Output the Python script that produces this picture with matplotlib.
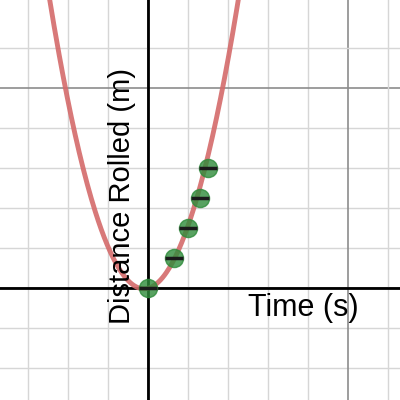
import numpy as np
import matplotlib
matplotlib.use('Agg')
import matplotlib.pyplot as plt

plt.rcParams['font.family'] = ['Liberation Sans', 'DejaVu Sans']

# measured points (time s, distance m)
times = [0.0, 0.65, 1.0, 1.3, 1.5]
dists = [0.0, 0.75, 1.5, 2.25, 3.0]

# fitted parabola y = a (x - h)^2 + k
fit_a, fit_h, fit_k = 1.3, -0.1, -0.02

fig = plt.figure(figsize=(4, 4), dpi=100)
ax = fig.add_axes([0, 0, 1, 1])
ax.set_xlim(-3.7, 6.3)
ax.set_ylim(-2.8, 7.2)

# grid: minor every 1, major every 5
for v in np.arange(-3, 7):
    lw, c = (1.2, '#8c8c8c') if v % 5 == 0 else (1.0, '#d6d6d6')
    ax.axvline(v, color=c, lw=lw, zorder=0)
    ax.axhline(v, color=c, lw=lw, zorder=0)
ax.axvline(0, color='black', lw=2, zorder=1)
ax.axhline(0, color='black', lw=2, zorder=1)

xs = np.linspace(-3.7, 6.3, 400)
ax.plot(xs, fit_a * (xs - fit_h) ** 2 + fit_k, color='#d46a6a', lw=3.5, alpha=0.9, zorder=2)

ax.scatter(times, dists, s=170, color='#2e8b3a', alpha=0.8, zorder=3)
ax.errorbar(times, dists, xerr=0.22, fmt='none', ecolor='#1a1a1a', elinewidth=2.5, zorder=4)

ax.text(2.5, -0.5, 'Time (s)', fontsize=22, ha='left', va='center')
ax.text(-0.65, 2.3, 'Distance Rolled (m)', fontsize=21, rotation=90, ha='center', va='center')
ax.axis('off')
plt.savefig('out.png')
